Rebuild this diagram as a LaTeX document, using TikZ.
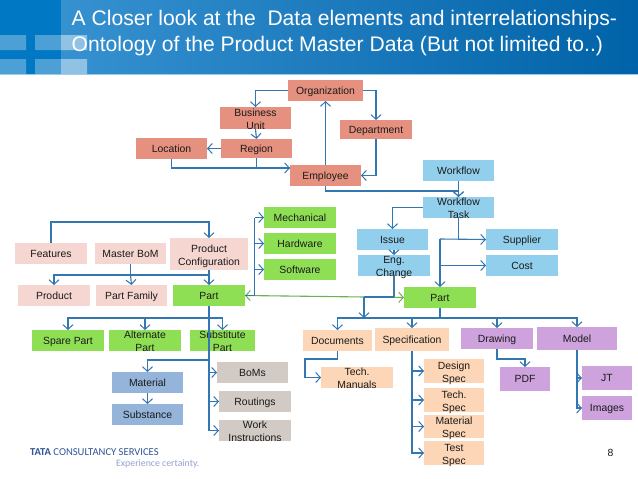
\documentclass[tikz,border=0pt]{standalone}
\usepackage{fontspec}
\setmainfont{Liberation Sans}
\newfontfamily\logofont{Carlito}
\usetikzlibrary{arrows.meta,calc}
\definecolor{salmon}{HTML}{E6917F}
\definecolor{skyb}{HTML}{92CFEC}
\definecolor{pinkb}{HTML}{F6D6D1}
\definecolor{greenb}{HTML}{8FDF55}
\definecolor{peachb}{HTML}{FCD6B6}
\definecolor{purpb}{HTML}{CDA2DD}
\definecolor{blueb}{HTML}{95B4DA}
\definecolor{greyb}{HTML}{D2CBC5}
\definecolor{wire}{HTML}{3276B2}
\definecolor{ink}{HTML}{1A1A1A}
\definecolor{greenwire}{HTML}{6FAF55}
\definecolor{headL}{RGB}{60,150,212}
\definecolor{headM}{RGB}{66,156,214}
\definecolor{headR}{RGB}{0,98,168}
\definecolor{headS}{RGB}{150,205,235}
\definecolor{headD}{RGB}{0,120,195}
\definecolor{logoA}{RGB}{50,85,150}
\definecolor{logoB}{RGB}{150,160,205}
\tikzset{
  box/.style={draw=none,inner sep=0pt,outer sep=0pt,text=ink,font=\fontsize{10.4}{13}\selectfont},
  wirel/.style={draw=wire,line width=1.1pt},
  arr/.style={wirel,-{Straight Barb[length=4.6pt,width=10pt,line width=1pt]}},
  thick wire/.style={line width=1.6pt},
}
\newcommand\tx[1]{\raisebox{-3.7pt}[0pt][0pt]{#1}}
\newcommand\tw[2]{\raisebox{-4.7pt}[0pt][0pt]{\begin{tabular}{@{}c@{}}#1\\#2\end{tabular}}}
\newcommand\B[7]{\node[box,fill=#1,minimum width={(#4-#3)*1pt},minimum height={(#6-#5)*1pt}] (#2) at ({(#3+#4)/2},{-(#5+#6)/2}) {#7};}
\begin{document}
\begin{tikzpicture}[x=1pt,y=1pt]
\useasboundingbox (0,0) rectangle (638,-479);
\fill[white] (0,0) rectangle (638,-479);
% header band
\shade[left color=headL,middle color=headM,right color=headR] (0,0) rectangle (638,-74);
\fill[headS] (0,-74) rectangle (638,-75);
\fill[headD] (0,0) rectangle (61,-74);
\fill[white,opacity=.3] (0,-35) rectangle (26,-50) (35,-35) rectangle (61,-50) (0,-59) rectangle (26,-74) (35,-59) rectangle (61,-74);
\fill[white,opacity=.45] (61,-35) rectangle (87,-50) (61,-59) rectangle (87,-74);
\node[anchor=base west,inner sep=0pt,text=white,font=\fontsize{21.1}{26}\selectfont] (t1) at (71.5,-26) {A Closer look at the \ Data elements and interrelationships-};
\node[anchor=base west,inner sep=0pt,text=white,font=\fontsize{21.1}{26}\selectfont] (t2) at (71.5,-52) {Ontology of the Product Master Data (But not limited to..)};
% boxes
\B{salmon}{org}{288}{363}{80}{101}{\tx{Organization}}
\B{salmon}{bu}{220}{291}{107}{129}{\tw{Business}{Unit}}
\B{salmon}{region}{221}{292}{139}{158}{\tx{Region}}
\B{salmon}{loc}{136}{207}{138}{159}{\tx{Location}}
\B{salmon}{emp}{290}{361}{165}{186}{\tx{Employee}}
\B{salmon}{dept}{340}{412}{120}{139}{\tx{Department}}
\B{skyb}{wf}{423}{494}{160}{181}{\tx{Workflow}}
\B{skyb}{wt}{423}{494}{197}{218}{\tw{Workflow}{Task}}
\B{skyb}{issue}{357}{428}{229}{250}{\tx{Issue}}
\B{skyb}{eng}{358}{430}{255}{276}{\tw{Eng.}{Change}}
\B{skyb}{sup}{486}{558}{229}{250}{\tx{Supplier}}
\B{skyb}{cost}{486}{558}{255}{276}{\tx{Cost}}
\B{greenb}{partR}{404}{476}{287}{308}{\tx{Part}}
\B{greenb}{mech}{264}{336}{207}{228}{\tx{Mechanical}}
\B{greenb}{hw}{264}{336}{233}{254}{\tx{Hardware}}
\B{greenb}{sw}{264}{336}{259}{280}{\tx{Software}}
\B{pinkb}{feat}{15}{87}{243}{264}{\tx{Features}}
\B{pinkb}{mbom}{95}{166}{243}{264}{\tx{Master BoM}}
\B{pinkb}{pc}{170}{248}{238}{270}{\tw{Product}{Configuration}}
\B{pinkb}{prod}{18}{90}{285}{306}{\tx{Product}}
\B{pinkb}{pfam}{96}{167}{285}{306}{\tx{Part Family}}
\B{greenb}{partL}{173}{245}{285}{306}{\tx{Part}}
\B{greenb}{spare}{32}{104}{330}{351}{\tx{Spare Part}}
\B{greenb}{alt}{109}{181}{330}{351}{\tw{Alternate}{Part}}
\B{greenb}{subst}{190}{255}{330}{351}{\tw{Substitute}{Part}}
\B{blueb}{mat}{112}{183}{372}{393}{\tx{Material}}
\B{blueb}{sub}{112}{183}{404}{425}{\tx{Substance}}
\B{greyb}{bom}{217}{288}{362}{383}{\tx{BoMs}}
\B{greyb}{rout}{219}{291}{391}{412}{\tx{Routings}}
\B{greyb}{wi}{219}{291}{420}{441}{\tw{Work}{Instructions}}
\B{peachb}{docs}{303}{372}{330}{351}{\tx{Documents}}
\B{peachb}{spec}{375}{449}{328}{351}{\tx{Specification}}
\B{purpb}{drawg}{461}{533}{328}{349}{\tx{Drawing}}
\B{purpb}{model}{537}{617}{327}{350}{\tx{Model}}
\B{peachb}{tman}{321}{393}{367}{388}{\tw{Tech.}{Manuals}}
\B{peachb}{dspec}{424}{484}{359}{383}{\tw{Design}{Spec}}
\B{peachb}{tspec}{424}{484}{388}{412}{\tw{Tech.}{Spec}}
\B{peachb}{mspec}{424}{484}{415}{438}{\tw{Material}{Spec}}
\B{peachb}{tsspec}{424}{484}{441}{465}{\tw{Test}{Spec}}
\B{purpb}{pdf}{500}{550}{367}{391}{\tx{PDF}}
\B{purpb}{jt}{582}{632}{366}{390}{\tx{JT}}
\B{purpb}{img}{582}{632}{396}{420}{\tx{Images}}
% helper coordinates for buses
\coordinate (yEmpIn) at (290,-168);
\coordinate (yEmpOut) at (0,-191);
\coordinate (yTop) at (0,-239);
\coordinate (xRight) at (440,0);
\coordinate (yFeat) at (0,-222);
\coordinate (yMb) at (0,-275);
\coordinate (xV) at (254.6,0);
\coordinate (yBusL) at (0,-318);
\coordinate (yMat) at (0,-360);
\coordinate (yBusR) at (0,-318);
\coordinate (yDoc) at (0,-359);
\coordinate (xDoc) at (305,0);
\coordinate (engJoin) at (394,-297);
\coordinate (xEngDrop) at (364,0);
% organisation cluster
\draw[arr] (org.west) -| (bu.north);
\draw[arr] (bu.south) -- (region.north);
\draw[arr] (region.west) -- (loc.east);
\draw[arr] (region.south) |- (yEmpIn);
\draw[wirel] (loc.south) |- (yEmpIn);
\draw[arr] (org.east) -| (dept.north);
\draw[arr] (dept.south) |- (emp.east);
\draw[arr] (emp.north) -- (org.south);
\draw[arr] (emp.south) |- (yEmpOut -| wt.north) -- (wt.north);
% workflow cluster
\draw[arr] (wf.south) -- (wt.north);
\draw[arr] (wt.west) -| (issue.north);
\draw[wirel] (wt.south) -- (wt.south |- yTop);
\draw[arr] (xRight |- yTop) -- (sup.west);
\draw[arr,thick wire] (xRight |- yTop) -- (partR.north);
\draw[arr] (xRight |- cost.west) -- (cost.west);
\draw[arr] (issue.south -| eng.north) -- (eng.north);
% green link between the two Part boxes
\draw[draw=greenwire,line width=1.1pt,{Straight Barb[length=4.6pt,width=10pt,line width=1pt]}-{Straight Barb[length=4.6pt,width=10pt,line width=1pt]}] (partL.east) -- (partR.west);
\draw[wirel,draw=wire!75!gray] (eng.south) -- (engJoin);
\draw[wirel] (engJoin) -- (engJoin -| xEngDrop);
\draw[arr] (engJoin -| xEngDrop) -- (xEngDrop |- yBusR);
% right part children
\draw[arr] (partR.south |- yBusR) -| (docs.north);
\draw[arr] (partR.south |- yBusR) -| (spec.north);
\draw[wirel,thick wire] (partR.south) -- (partR.south |- yBusR) -- (drawg.north |- yBusR);
\draw[arr] (drawg.north |- yBusR) -- (drawg.north);
\draw[arr] (partR.south |- yBusR) -| (model.north);
\draw[arr] (docs.south) |- (yDoc -| xDoc) |- (tman.west);
\draw[arr] (spec.south) |- (dspec.west);
\draw[arr] (spec.south) |- (tspec.west);
\draw[arr] (spec.south) |- (mspec.west);
\draw[arr] (spec.south) |- (tsspec.west);
\draw[wirel,thick wire] (spec.south) -- (spec.south |- mspec.west);
\draw[arr] (drawg.south) |- (yDoc -| pdf.north) -- (pdf.north);
\draw[arr] (model.south) |- (jt.west);
\draw[arr] (model.south) |- (img.west);
% left part
\draw[arr] (feat.north) |- (yFeat -| pc.north) -- (pc.north);
\draw[wirel] (mbom.south) -- (mbom.south |- yMb);
\draw[arr] (pc.south |- yMb) -| (prod.north);
\draw[arr] (mbom.south |- yMb) -- (pfam.north);
\draw[arr,thick wire] (pc.south) -- (partL.north);
% part -> mechanical, hardware, software
\draw[wirel] (partL.east) -- (partL.east -| xV);
\draw[wirel,thick wire] (partL.east -| xV) -- (xV |- mech.west);
\draw[arr] (xV |- mech.west) -- (mech.west);
\draw[arr] (xV |- hw.west) -- (hw.west);
\draw[arr] (xV |- sw.west) -- (sw.west);
% part children
\draw[arr] (partL.south) |- (wi.west);
\draw[arr] (partL.south |- yMat) |- (bom.west);
\draw[arr] (partL.south |- yMat) |- (rout.west);
\draw[arr] (partL.south |- yBusL) -| (spare.north);
\draw[arr] (partL.south |- yBusL) -| (alt.north);
\draw[arr] (partL.south |- yBusL) -| (subst.north);
\draw[arr] (partL.south |- yMat) -| (mat.north);
\draw[arr] (mat.south) -- (sub.north);
% footer
\node[anchor=base west,inner sep=0pt,text=logoA,font=\logofont\fontsize{10.6}{11}\selectfont] (logo) at (30,-455.5) {\textbf{TATA} CONSULTANCY SERVICES};
\node[anchor=base west,inner sep=0pt,text=logoB,font=\logofont\fontsize{9.8}{11}\selectfont] (tag) at (116,-466) {Experience certainty.};
\node[inner sep=0pt,text=ink,font=\fontsize{10.4}{13}\selectfont] (num) at (610.5,-453) {8};
\end{tikzpicture}
\end{document}
